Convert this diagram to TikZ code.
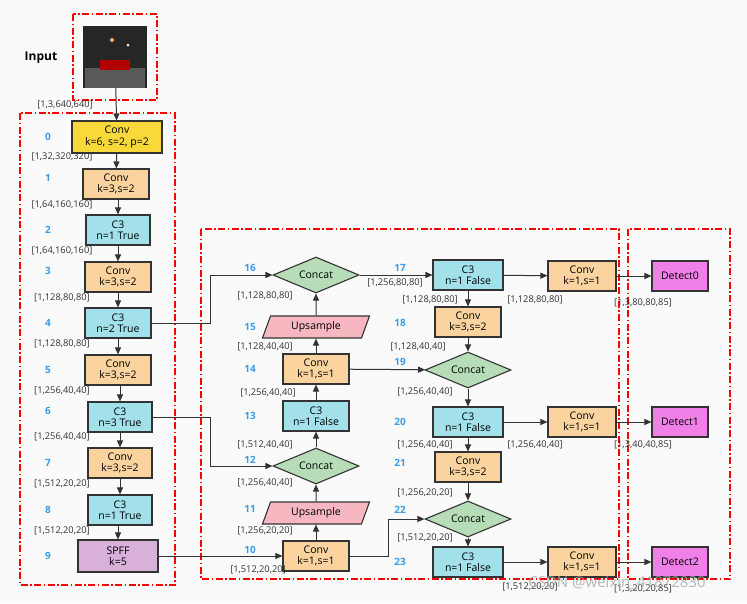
\documentclass[tikz,border=0pt]{standalone}
\usepackage{fontspec}
\setmainfont{Open Sans}
\usetikzlibrary{shapes.geometric,arrows.meta}
\definecolor{cyel}{HTML}{F9D93A}
\definecolor{corg}{HTML}{FAD39F}
\definecolor{ccyan}{HTML}{A2E1EA}
\definecolor{cgreen}{HTML}{B7DDB8}
\definecolor{cpink}{HTML}{F7B7C1}
\definecolor{cpur}{HTML}{D8B0DA}
\definecolor{cmag}{HTML}{F080E8}
\definecolor{cblue}{HTML}{3A9BE8}
\begin{document}
\begin{tikzpicture}[x=1pt,y=-1pt,
  blk/.style={draw=black!80,line width=1.1pt,minimum width=66pt,minimum height=30pt,align=center,inner sep=1pt,font=\fontsize{10.5}{11.5}\selectfont},
  conv/.style={blk,fill=corg},
  cthree/.style={blk,fill=ccyan},
  cat/.style={draw=black!80,line width=1.1pt,diamond,aspect=2.4,fill=cgreen,minimum width=86pt,minimum height=36pt,inner sep=0pt,font=\fontsize{10.5}{11.5}\selectfont},
  ups/.style={draw=black!80,line width=1.1pt,trapezium,trapezium left angle=70,trapezium right angle=110,fill=cpink,minimum width=66pt,minimum height=22pt,inner sep=1pt,font=\fontsize{10.5}{11.5}\selectfont},
  det/.style={blk,fill=cmag,minimum width=56pt},
  sz/.style={font=\fontsize{9.3}{10}\selectfont,text=black!80,inner sep=0pt},
  idx/.style={font=\bfseries\fontsize{10}{11}\selectfont,text=cblue,inner sep=0pt},
  ar/.style={-{Triangle[length=7pt,width=6pt]},line width=1pt,black!80},
  frame/.style={red,line width=1.1pt,dash pattern=on 7pt off 2.5pt on 1.5pt off 2.5pt}]
\useasboundingbox (0,0) rectangle (747,603);
\fill[black!2] (0,0) rectangle (747,603);
% frames
\draw[frame] (73,14) rectangle (157,100);
\draw[frame] (20,113) rectangle (175,585);
\draw[frame] (201,229) rectangle (619,579);
\draw[frame] (628,229) rectangle (730,579);
% input
\node[font=\bfseries\fontsize{12}{13}\selectfont] (inlab) at (41,58) {Input};
\node[fill=black!85,minimum width=64pt,minimum height=62pt,inner sep=0pt] (img) at (115,57) {};
\fill[gray!70!black] (85,68) -- (145,68) -- (145,88) -- (85,88) -- cycle;
\fill[red!70!black] (100,60) rectangle (130,70);
\fill[orange!60] (112,40) circle (2);
\fill[white!80!yellow] (128,45) circle (1.5);
% backbone
\node[blk,fill=cyel,minimum width=90pt,minimum height=32pt] (n0) at (117,137) {Conv\\k=6, s=2, p=2};
\node[conv] (n1) at (116,184) {Conv\\k=3,s=2};
\node[cthree,minimum width=64pt] (n2) at (118,230) {C3\\n=1 True};
\node[conv] (n3) at (118,277) {Conv\\k=3,s=2};
\node[cthree] (n4) at (118,323) {C3\\n=2 True};
\node[conv] (n5) at (118,370) {Conv\\k=3,s=2};
\node[cthree,minimum width=64pt] (n6) at (120,417) {C3\\n=3 True};
\node[conv,minimum width=64pt] (n7) at (120,463) {Conv\\k=3,s=2};
\node[cthree,minimum width=64pt] (n8) at (120,510) {C3\\n=1 True};
\node[blk,fill=cpur,minimum width=80pt,minimum height=32pt] (n9) at (118,556) {SPFF\\k=5};
\foreach \i/\y in {0/137,1/178,2/230,3/271,4/323,5/370,6/411,7/463,8/510,9/556}
  \node[idx] (i\i) at (48,\y) {\i};
\node[sz] (s0) at (65,105) {[1,3,640,640]};
\node[sz] (s1) at (62,157) {[1,32,320,320]};
\node[sz] (s2) at (62,205) {[1,64,160,160]};
\node[sz] (s3) at (62,251) {[1,64,160,160]};
\node[sz] (s4) at (62,298) {[1,128,80,80]};
\node[sz] (s5) at (62,344) {[1,128,80,80]};
\node[sz] (s6) at (62,391) {[1,256,40,40]};
\node[sz] (s7) at (62,437) {[1,256,40,40]};
\node[sz] (s8) at (62,484) {[1,512,20,20]};
\node[sz] (s9) at (62,531) {[1,512,20,20]};
\draw[ar] (img) -- (n0);
\draw[ar] (n0) -- (n1);
\draw[ar] (n1.south -| n2) -- (n2);
\draw[ar] (n2) -- (n3);
\draw[ar] (n3) -- (n4);
\draw[ar] (n4) -- (n5);
\draw[ar] (n5.south -| n6) -- (n6);
\draw[ar] (n6) -- (n7);
\draw[ar] (n7) -- (n8);
\draw[ar] (n8.south -| n9) -- (n9);
% neck up
\node[cat] (n16) at (316,275) {Concat};
\node[ups] (n15) at (316,327) {Upsample};
\node[conv] (n14) at (316,369) {Conv\\k=1,s=1};
\node[cthree] (n13) at (316,416) {C3\\n=1 False};
\node[cat] (n12) at (316,466) {Concat};
\node[ups] (n11) at (316,513) {Upsample};
\node[conv] (n10) at (316,556) {Conv\\k=1,s=1};
\foreach \i/\y in {16/268,15/327,14/369,13/416,12/460,11/509,10/550}
  \node[idx] (i\i) at (250,\y) {\i};
\node[sz] (t16) at (265,296) {[1,128,80,80]};
\node[sz] (t15) at (265,347) {[1,128,40,40]};
\node[sz] (t14) at (268,393) {[1,256,40,40]};
\node[sz] (t13) at (265,445) {[1,512,40,40]};
\node[sz] (t12) at (265,483) {[1,256,40,40]};
\node[sz] (t11) at (265,531) {[1,256,20,20]};
\node[sz] (t10) at (258,570) {[1,512,20,20]};
\draw[ar] (n9) -- (n10);
\draw[ar] (n10) -- (n11);
\draw[ar] (n11) -- (n12);
\draw[ar] (n12) -- (n13);
\draw[ar] (n13) -- (n14);
\draw[ar] (n14) -- (n15);
\draw[ar] (n15) -- (n16);
\draw[ar] (n4.east) -- (210,323) -- (210,275) -- (n16.west);
\draw[ar] (n6.east) -- (210,417) -- (210,466) -- (n12.west);
% neck down
\node[cthree,minimum width=70pt] (n17) at (468,275) {C3\\n=1 False};
\node[conv] (n18) at (468,322) {Conv\\k=3,s=2};
\node[cat] (n19) at (468,370) {Concat};
\node[cthree,minimum width=70pt] (n20) at (468,422) {C3\\n=1 False};
\node[conv] (n21) at (468,467) {Conv\\k=3,s=2};
\node[cat] (n22) at (468,519) {Concat};
\node[cthree,minimum width=70pt] (n23) at (468,562) {C3\\n=1 False};
\foreach \i/\y in {17/268,18/323,19/362,20/422,21/463,22/510,23/562}
  \node[idx] (i\i) at (400,\y) {\i};
\node[sz] (u17) at (395,283) {[1,256,80,80]};
\node[sz] (u17b) at (430,300) {[1,128,80,80]};
\node[sz] (u18) at (418,347) {[1,128,40,40]};
\node[sz] (u19) at (425,392) {[1,256,40,40]};
\node[sz] (u20) at (425,445) {[1,256,40,40]};
\node[sz] (u21) at (425,493) {[1,256,20,20]};
\node[sz] (u22) at (425,538) {[1,512,20,20]};
\draw[ar] (n16) -- (n17);
\draw[ar] (n17) -- (n18);
\draw[ar] (n18) -- (n19);
\draw[ar] (n19) -- (n20);
\draw[ar] (n20) -- (n21);
\draw[ar] (n21) -- (n22);
\draw[ar] (n22) -- (n23);
\draw[ar] (n14) -- (n19);
\draw[ar] (n10.east) -- (388,556) -- (388,519) -- (n22.west);
% heads
\node[conv,minimum width=68pt] (h0) at (582,276) {Conv\\k=1,s=1};
\node[conv,minimum width=68pt] (h1) at (582,422) {Conv\\k=1,s=1};
\node[conv,minimum width=68pt] (h2) at (582,562) {Conv\\k=1,s=1};
\node[det] (d0) at (680,276) {Detect0};
\node[det] (d1) at (680,422) {Detect1};
\node[det] (d2) at (680,562) {Detect2};
\draw[ar] (n17) -- (h0); \draw[ar] (h0) -- (d0);
\draw[ar] (n20) -- (h1); \draw[ar] (h1) -- (d1);
\draw[ar] (n23) -- (h2); \draw[ar] (h2) -- (d2);
\node[sz] (v0) at (535,300) {[1,128,80,80]};
\node[sz] (v1) at (535,445) {[1,256,40,40]};
\node[sz] (v2) at (530,587) {[1,512,20,20]};
\node[sz] (w0) at (643,303) {[1,3,80,80,85]};
\node[sz] (w1) at (643,445) {[1,3,40,40,85]};
\node[sz] (w2) at (643,589) {[1,3,20,20,85]};
\node[font=\fontsize{15}{16}\selectfont,text=black!35,opacity=0.8] (wm) at (617,583) {CSDN @weixin\_41872830};
\end{tikzpicture}
\end{document}
